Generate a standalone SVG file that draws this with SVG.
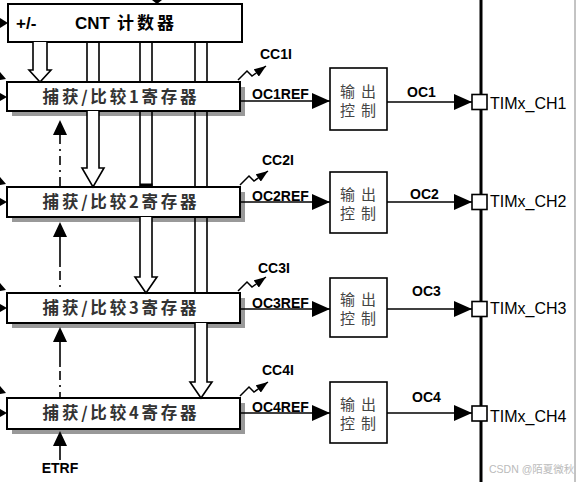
<svg xmlns="http://www.w3.org/2000/svg" width="576" height="482" viewBox="0 0 576 482">
<style>
.box{fill:#fff;stroke:#000;stroke-width:2}
.shadow{fill:#999}
.ob{fill:#fff;stroke:#000;stroke-width:1.6}
.reg{font-family:"Noto Sans CJK SC","Noto Sans CJK JP",sans-serif;font-size:16.5px;font-weight:bold;fill:#333;letter-spacing:2.8px;text-anchor:middle}
.oc{font-family:"Noto Sans CJK SC","Noto Sans CJK JP",sans-serif;font-size:15px;fill:#444;letter-spacing:6px}
.lbl{font-family:"Liberation Sans",Arial,sans-serif;font-size:14px;font-weight:bold;fill:#000}
.pin{font-family:"Liberation Sans",Arial,sans-serif;font-size:16px;fill:#000}
.ln{stroke:#000;stroke-width:1.6;fill:none}
.zz{stroke:#000;stroke-width:1.5;fill:none}
.bus{fill:#fff;stroke:#000;stroke-width:1.6}
.dd{stroke:#000;stroke-width:1.6;stroke-dasharray:9,5,2,5;fill:none}
.tri{fill:#000}
.sq{fill:#fff;stroke:#000;stroke-width:1.6}
</style>
<defs>
<marker id="big" viewBox="0 0 18 16" refX="18" refY="8" markerWidth="18" markerHeight="16" markerUnits="userSpaceOnUse" orient="auto"><path d="M0,0 L18,8 L0,16 z" fill="#000"/></marker>
<marker id="zz" viewBox="0 0 12 9" refX="12" refY="4.5" markerWidth="12" markerHeight="9" markerUnits="userSpaceOnUse" orient="auto"><path d="M0,0 L12,4.5 L0,9 z" fill="#000"/></marker>
</defs>

<!-- frame lines -->
<line x1="481" y1="0" x2="481" y2="482" stroke="#000" stroke-width="3"/>
<line x1="575" y1="0" x2="575" y2="482" stroke="#888" stroke-width="1"/>

<!-- nodes -->
<g id="cnt">
<rect class="box" x="8" y="4" width="234" height="38"/>
<text x="16" y="29" font-family="Liberation Sans,Arial,sans-serif" font-size="17" font-weight="bold">+/-</text>
<text x="75" y="29" font-family="Liberation Sans,Arial,sans-serif" font-size="17" font-weight="bold">CNT</text>
<text x="117" y="29" font-family="Noto Sans CJK SC,sans-serif" font-size="17" font-weight="bold" letter-spacing="3">计数器</text>
</g>

<g id="reg1"><rect class="shadow" x="12" y="87" width="233" height="29"/><rect class="box" x="7" y="82" width="233" height="29"/><text class="reg" x="121" y="103">捕获/比较1寄存器</text></g>
<g id="reg2"><rect class="shadow" x="12" y="192" width="233" height="30"/><rect class="box" x="7" y="187" width="233" height="30"/><text class="reg" x="121" y="208">捕获/比较2寄存器</text></g>
<g id="reg3"><rect class="shadow" x="12" y="298" width="233" height="30"/><rect class="box" x="7" y="293" width="233" height="30"/><text class="reg" x="121" y="314">捕获/比较3寄存器</text></g>
<g id="reg4"><rect class="shadow" x="12" y="403" width="233" height="31"/><rect class="box" x="7" y="398" width="233" height="31"/><text class="reg" x="121" y="419">捕获/比较4寄存器</text></g>

<g id="out1"><rect class="ob" x="330" y="68" width="57" height="62"/><text class="oc" x="340" y="97">输出</text><text class="oc" x="340" y="116">控制</text></g>
<g id="out2"><rect class="ob" x="330" y="172" width="57" height="61"/><text class="oc" x="340" y="200">输出</text><text class="oc" x="340" y="219">控制</text></g>
<g id="out3"><rect class="ob" x="330" y="278" width="57" height="59"/><text class="oc" x="340" y="305">输出</text><text class="oc" x="340" y="324">控制</text></g>
<g id="out4"><rect class="ob" x="330" y="382" width="57" height="61"/><text class="oc" x="340" y="410">输出</text><text class="oc" x="340" y="429">控制</text></g>

<!-- connectors -->
<g id="connectors">
<!-- left edge inputs -->
<polygon class="tri" points="0,18 8,23 0,28"/>
<polygon class="tri" points="0,72 6,79 0,80"/><polygon class="tri" points="0,93 7,97 0,101"/>
<polygon class="tri" points="0,177 6,184 0,185"/><polygon class="tri" points="0,198 7,202 0,206"/>
<polygon class="tri" points="0,283 6,290 0,291"/><polygon class="tri" points="0,304 7,308 0,312"/>
<polygon class="tri" points="0,386 6,393 0,394"/><polygon class="tri" points="0,409 7,413 0,417"/>
<polygon class="tri" points="152,0 157,4 162,0"/>

<!-- bus CNT -> reg1 -->
<path class="bus" d="M33 42 V70 H29 L40 82 L51 70 H47 V42"/>
<path class="ln" d="M87 42 V82 M99 42 V82 M140 42 V82 M152 42 V82 M195 42 V82 M207 42 V82"/>
<!-- reg1 -> reg2 -->
<path class="bus" d="M87 111 V168 H82 L93 187 L104 168 H99 V111"/>
<path class="ln" d="M140 111 V187 M152 111 V187 M195 111 V187 M207 111 V187"/>
<rect x="140" y="183.5" width="12.5" height="3.5" fill="#000"/>
<!-- reg2 -> reg3 -->
<path class="bus" d="M140 217 V277 H135 L146 293 L157 277 H152 V217"/>
<path class="ln" d="M195 217 V293 M207 217 V293"/>
<!-- reg3 -> reg4 -->
<path class="bus" d="M195 323 V382 H190 L201 398 L212 382 H207 V323"/>

<!-- ETRF chain -->
<polygon class="tri" points="53,135 60,120 67,135"/>
<line class="dd" x1="60" y1="135" x2="60" y2="187"/>
<polygon class="tri" points="53,237 60,222 67,237"/>
<line class="ln" x1="60" y1="237" x2="60" y2="267"/>
<line class="dd" x1="60" y1="271" x2="60" y2="293"/>
<polygon class="tri" points="53,342 60,327 67,342"/>
<line class="ln" x1="60" y1="342" x2="60" y2="367"/>
<line class="dd" x1="60" y1="371" x2="60" y2="398"/>
<polygon class="tri" points="53,446 60,431 67,446"/>
<line class="ln" x1="60" y1="446" x2="60" y2="460"/>
<text class="lbl" x="60" y="473" text-anchor="middle">ETRF</text>

<!-- channel 1 -->
<polyline class="zz" points="238,80 247,71 252,76 266,66" marker-end="url(#zz)"/>
<text class="lbl" x="260" y="59">CC1I</text>
<line class="ln" x1="240" y1="101" x2="330" y2="101" marker-end="url(#big)"/>
<text class="lbl" x="252" y="99">OC1REF</text>
<line class="ln" x1="387" y1="102" x2="472" y2="102" marker-end="url(#big)"/>
<text class="lbl" x="407" y="97">OC1</text>
<rect class="sq" x="472" y="94.5" width="15" height="15"/>
<text class="pin" x="490" y="109">TIMx_CH1</text>

<!-- channel 2 -->
<polyline class="zz" points="240,185 249,176 254,181 268,171" marker-end="url(#zz)"/>
<text class="lbl" x="262" y="165">CC2I</text>
<line class="ln" x1="240" y1="202" x2="330" y2="202" marker-end="url(#big)"/>
<text class="lbl" x="252" y="201">OC2REF</text>
<line class="ln" x1="387" y1="202" x2="472" y2="202" marker-end="url(#big)"/>
<text class="lbl" x="410" y="199">OC2</text>
<rect class="sq" x="472" y="194.5" width="15" height="15"/>
<text class="pin" x="490" y="207">TIMx_CH2</text>

<!-- channel 3 -->
<polyline class="zz" points="238,291 247,282 252,287 266,277" marker-end="url(#zz)"/>
<text class="lbl" x="258" y="273">CC3I</text>
<line class="ln" x1="240" y1="309" x2="330" y2="309" marker-end="url(#big)"/>
<text class="lbl" x="252" y="308">OC3REF</text>
<line class="ln" x1="387" y1="309" x2="472" y2="309" marker-end="url(#big)"/>
<text class="lbl" x="412" y="296">OC3</text>
<rect class="sq" x="472" y="301.5" width="15" height="15"/>
<text class="pin" x="490" y="314">TIMx_CH3</text>

<!-- channel 4 -->
<polyline class="zz" points="240,396 249,387 254,392 268,382" marker-end="url(#zz)"/>
<text class="lbl" x="262" y="375">CC4I</text>
<line class="ln" x1="240" y1="413" x2="330" y2="413" marker-end="url(#big)"/>
<text class="lbl" x="252" y="412">OC4REF</text>
<line class="ln" x1="387" y1="413" x2="472" y2="413" marker-end="url(#big)"/>
<text class="lbl" x="412" y="402">OC4</text>
<rect class="sq" x="472" y="406" width="15" height="15"/>
<text class="pin" x="490" y="422">TIMx_CH4</text>
</g>

<text x="489" y="473" font-family="Liberation Sans,Noto Sans CJK SC,sans-serif" font-size="10.5" fill="#bbb">CSDN @陌夏微秋</text>
</svg>
